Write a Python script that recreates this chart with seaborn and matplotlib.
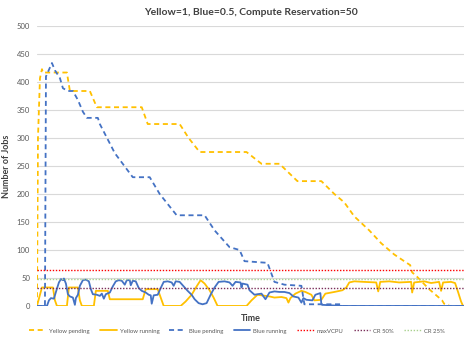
import matplotlib
matplotlib.use("Agg")
import matplotlib.pyplot as plt
import seaborn as sns
import pandas as pd

# ---------------- data (time in arbitrary units) ----------------
yp_time = [0, 1, 3, 5, 6, 30, 33, 53, 60, 105, 111, 143, 152, 163, 210, 225, 243, 261, 285,
           298, 308, 318, 333, 345, 358, 368, 374, 376, 381, 393, 406, 408, 413]
yp_vals = [0, 300, 407, 423, 417, 417, 384, 384, 355, 355, 325, 325, 300, 275, 275, 254, 254, 223, 223,
           200, 185, 160, 135, 112, 92, 80, 73, 60, 52, 30, 10, 4, 2]

bp_time = [0, 8, 9, 15, 18, 23, 26, 31, 36, 41, 46, 50, 61, 63, 78, 96, 113, 123, 140, 168,
           178, 193, 203, 208, 231, 238, 248, 265, 268, 306, 307, 428]
bp_vals = [0, 0, 410, 434, 421, 407, 389, 384, 384, 368, 347, 336, 336, 325, 273, 230, 230, 200, 162, 162,
           135, 105, 100, 80, 77, 43, 38, 36, 3, 3, 0, 0]

yr_time = [0, 3, 5, 16, 18, 20, 30, 32, 41, 43, 45, 57, 59, 71, 73, 106, 109, 121, 124, 127,
           144, 149, 155, 160, 164, 168, 173, 177, 181, 210, 215, 221, 225, 233, 238, 245, 250,
           252, 254, 259, 265, 269, 275, 278, 285, 289, 298, 306, 310, 313, 318, 328, 340, 342,
           344, 353, 363, 375, 376, 378, 388, 395, 403, 405, 407, 415, 419, 422, 425, 427]
yr_vals = [0, 20, 33, 33, 10, 0, 0, 33, 33, 10, 0, 0, 27, 27, 12, 12, 30, 30, 15, 0,
           0, 8, 20, 35, 46, 40, 28, 15, 0, 0, 10, 20, 19, 17, 15, 16, 14,
           6, 14, 22, 27, 25, 20, 10, 11, 22, 25, 28, 33, 42, 44, 43, 42, 26,
           43, 44, 42, 43, 24, 42, 44, 41, 43, 27, 42, 43, 41, 25, 8, 0]

br_time = [0, 10, 12, 14, 17, 19, 22, 24, 26, 27, 29, 31, 33, 36, 38, 39, 41, 43, 46, 49, 52,
           54, 56, 60, 63, 65, 67, 69, 73, 76, 79, 82, 85, 88, 90, 93, 94, 96, 99, 102, 105,
           109, 112, 114, 115, 117, 121, 124, 127, 131, 135, 137, 139, 143, 147, 151, 155, 158,
           162, 166, 170, 174, 178, 182, 188, 193, 196, 199, 204, 205, 206, 211, 213, 218,
           221, 225, 229, 233, 238, 243, 248, 253, 257, 262, 265, 267, 270, 276, 279, 284,
           285, 286, 306, 428]
br_vals = [0, 0, 10, 14, 13, 25, 42, 48, 46, 49, 40, 21, 17, 15, 2, 14, 20, 36, 46, 47, 44,
           30, 21, 20, 18, 22, 13, 21, 24, 35, 44, 46, 45, 38, 46, 46, 37, 45, 44, 32, 27,
           24, 20, 19, 4, 19, 20, 32, 43, 44, 42, 36, 44, 43, 35, 27, 20, 12,
           5, 3, 5, 20, 33, 43, 44, 42, 36, 43, 42, 33, 40, 38, 28, 20,
           21, 22, 12, 24, 26, 25, 25, 23, 17, 15, 6, 14, 11, 10, 20, 23,
           3, 2, 0, 0]

ref_names = ["maxVCPU", "CR 50%", "CR 25%"]
ref_values = [64, 32, 48]

y_ticks = [0, 50, 100, 150, 200, 250, 300, 350, 400, 450, 500]

# ---------------- style ----------------
sns.set_theme(style="white")
plt.rcParams["font.family"] = ["Lato", "DejaVu Sans"]

YEL = "#FFC000"
BLU = "#4472C4"
ref_colors = ["#FF0000", "#7A2E5A", "#A9D18E"]
TXT = "#595959"

fig = plt.figure(figsize=(4.74, 3.43), dpi=100)
ax = fig.add_axes([0.078, 0.108, 0.901, 0.816])

dash = (2.8, 2.0)
sns.lineplot(x=yp_time, y=yp_vals, ax=ax, color=YEL, lw=1.3,
             label="Yellow pending").lines[-1].set_dashes(dash)
sns.lineplot(x=yr_time, y=yr_vals, ax=ax, color=YEL, lw=1.3, label="Yellow running")
sns.lineplot(x=bp_time, y=bp_vals, ax=ax, color=BLU, lw=1.3,
             label="Blue pending").lines[-1].set_dashes(dash)
sns.lineplot(x=br_time, y=br_vals, ax=ax, color=BLU, lw=1.3, label="Blue running")

for name, val, col in zip(ref_names, ref_values, ref_colors):
    ax.axhline(val, color=col, lw=1.0, linestyle=(0, (1, 1.2)), label=name)

ax.set_xlim(0, 428)
ax.set_ylim(0, 500)
ax.set_yticks(y_ticks)
ax.set_xticks([])
ax.tick_params(axis="y", labelsize=5.5, colors=TXT, length=0, pad=5)
ax.grid(axis="y", color="#D9D9D9", lw=0.8)
ax.set_axisbelow(True)
for s in ax.spines.values():
    s.set_visible(False)

ax.set_title("Yellow=1, Blue=0.5, Compute Reservation=50", fontsize=7.5,
             fontweight="bold", color="#404040", pad=8)
ax.set_ylabel("Number of Jobs", fontsize=6.5, fontweight="bold", color="#404040")
ax.yaxis.set_label_coords(-0.06, 0.5)
ax.set_xlabel("Time", fontsize=6.5, fontweight="bold", color="#404040")
ax.xaxis.set_label_coords(0.5, -0.03)

handles, labels = ax.get_legend_handles_labels()
ax.get_legend().remove()
fig.legend(handles, labels, loc="center", bbox_to_anchor=(0.5, 0.035), ncol=7, frameon=False,
           fontsize=4.3, handlelength=2.8, columnspacing=1.7, handletextpad=0.5,
           labelcolor=TXT)

fig.patch.set_facecolor("white")
fig.savefig("out.png", dpi=100, facecolor="white")
